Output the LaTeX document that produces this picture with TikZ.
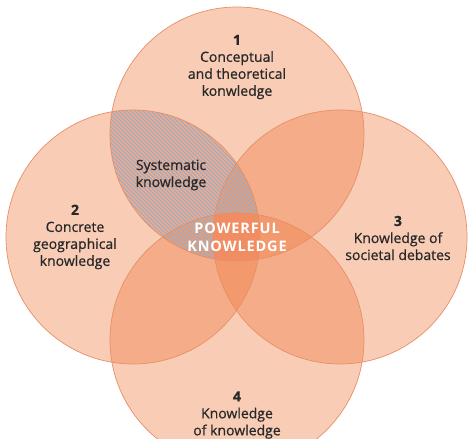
\documentclass[tikz,border=0pt]{standalone}
\usepackage{fontspec}
\setmainfont{Open Sans}
\definecolor{vorange}{RGB}{238,122,63}
\definecolor{vline}{RGB}{232,142,102}
\definecolor{vcenter}{RGB}{240,141,99}
\definecolor{vhatch}{RGB}{160,170,192}
\definecolor{vtext}{RGB}{40,40,40}
\begin{document}
\begin{tikzpicture}[x=1pt,y=-1pt,
  vfill/.style={fill=vorange,fill opacity=0.38},
  vedge/.style={draw=vline,line width=0.7pt},
  hatchline/.style={draw=vhatch,line width=1.15pt},
  lbl/.style={align=center,text=vtext,font=\fontsize{14}{17}\selectfont\addfontfeatures{FakeBold=0.7},inner sep=0pt},
  pk/.style={align=center,text=white,font=\fontsize{14.5}{18}\selectfont\bfseries\addfontfeatures{LetterSpace=6},inner sep=0pt}]
\useasboundingbox (0,0) rectangle (474,439);
\clip (0,0) rectangle (474,439);
\coordinate (T) at (237,134);
\coordinate (L) at (133,237);
\coordinate (R) at (340,237);
\coordinate (B) at (237,340);
\foreach \c in {T,L,R,B} \fill[vfill] (\c) circle[radius=127pt];
\begin{scope}
  \clip (T) circle[radius=127pt];
  \clip (L) circle[radius=127pt];
  \foreach \i in {-80,-76,...,280} \draw[hatchline] (\i,100) -- ++(260,260);
\end{scope}
\begin{scope}
  \clip (T) circle[radius=127pt];
  \clip (L) circle[radius=127pt];
  \clip (R) circle[radius=127pt];
  \fill[vcenter] (B) circle[radius=127pt];
\end{scope}
\foreach \c in {T,L,R,B} \draw[vedge] (\c) circle[radius=127pt];
\node[lbl] (n1) at (237,67) {\textbf{1}\\Conceptual\\and theoretical\\konwledge};
\node[lbl] (sys) at (171,175) {Systematic\\knowledge};
\node[lbl] (n2) at (75,237) {\textbf{2}\\Concrete\\geographical\\knowledge};
\node[lbl] (n3) at (398,238) {\textbf{3}\\Knowledge of\\societal debates};
\node[lbl] (n4) at (237,415) {\textbf{4}\\Knowledge\\of knowledge};
\node[pk] (pkn) at (237,237) {POWERFUL\\KNOWLEDGE};
\end{tikzpicture}
\end{document}
